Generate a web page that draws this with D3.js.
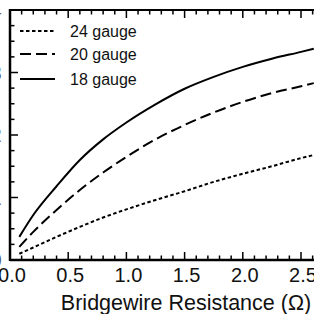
<!DOCTYPE html>
<html><head><meta charset="utf-8">
<script src="https://cdn.jsdelivr.net/npm/d3@7"></script>
<style>body{margin:0;background:#fff}svg{display:block}text{font-family:Arial,"Liberation Sans",Helvetica,sans-serif}</style>
</head><body>
<svg id="c" width="314" height="314"></svg>
<script>
const xVals = [0.08, 0.2, 0.4, 0.6, 0.8, 1.0, 1.25, 1.5, 1.75, 2.0, 2.25, 2.5, 2.61];
const gauge24 = [0.10, 0.20, 0.37, 0.53, 0.68, 0.81, 0.96, 1.10, 1.25, 1.38, 1.50, 1.63, 1.68];
const gauge20 = [0.21, 0.45, 0.80, 1.12, 1.40, 1.65, 1.93, 2.16, 2.36, 2.53, 2.67, 2.78, 2.83];
const gauge18 = [0.37, 0.72, 1.18, 1.60, 1.93, 2.20, 2.49, 2.74, 2.93, 3.09, 3.22, 3.33, 3.38];
const seriesNames = ["24 gauge", "20 gauge", "18 gauge"];
const xTickLabels = ["0.0", "0.5", "1.0", "1.5", "2.0", "2.5"];
const yTickLabels = ["0", "1", "2", "3", "4"];
const xTitle = "Bridgewire Resistance (\u03A9)";

const svg = d3.select("#c");
const L = 10, T = 10, B = 260;
const x = d3.scaleLinear().domain([0, 2.5]).range([L, L + 291]);
const y = d3.scaleLinear().domain([0, 4]).range([B, T]);

const dashes = ["3.5,2.5", "11,5", null];
const data = [gauge24, gauge20, gauge18];

const line = d3.line().x((d, i) => x(xVals[i])).y(d => y(d)).curve(d3.curveMonotoneX);
data.forEach((s, k) => {
  svg.append("path").attr("d", line(s)).attr("fill", "none").attr("stroke", "#000")
    .attr("stroke-width", 2).attr("stroke-dasharray", dashes[k]);
});

// minor & major ticks
const xMinor = d3.range(0, 27).map(i => i * 0.1);
const xMajor = [0, 0.5, 1.0, 1.5, 2.0, 2.5];
const yMinor = d3.range(0, 17).map(i => i * 0.25);
const yMajor = [0, 1, 2, 3, 4];
const g = svg.append("g").attr("stroke", "#000").attr("stroke-width", 1.5);
xMinor.forEach(v => {
  const isMaj = xMajor.some(m => Math.abs(m - v) < 1e-6);
  const len = isMaj ? 8 : 4.5;
  g.append("line").attr("x1", x(v)).attr("x2", x(v)).attr("y1", B).attr("y2", B - len);
  g.append("line").attr("x1", x(v)).attr("x2", x(v)).attr("y1", T).attr("y2", T + len);
});
yMinor.forEach(v => {
  const isMaj = yMajor.some(m => Math.abs(m - v) < 1e-6);
  const len = isMaj ? 8 : 4.5;
  g.append("line").attr("x1", L).attr("x2", L + len).attr("y1", y(v)).attr("y2", y(v));
});
// axis lines
svg.append("line").attr("x1", L).attr("x2", 314).attr("y1", B).attr("y2", B).attr("stroke", "#000").attr("stroke-width", 2.5);
svg.append("line").attr("x1", L).attr("x2", 314).attr("y1", T).attr("y2", T).attr("stroke", "#000").attr("stroke-width", 2);
svg.append("line").attr("x1", L).attr("x2", L).attr("y1", T - 1).attr("y2", B + 1).attr("stroke", "#000").attr("stroke-width", 2.5);

// tick labels
xMajor.forEach((v, i) => {
  svg.append("text").attr("x", x(v) + 2).attr("y", 282).attr("text-anchor", "middle")
    .attr("font-size", 20).attr("fill", "#111").text(xTickLabels[i]);
});
yMajor.forEach((v, i) => {
  svg.append("text").attr("x", 1.5).attr("y", y(v) + 7).attr("text-anchor", "end")
    .attr("font-size", 20).attr("fill", "#555").text(yTickLabels[i]);
});
svg.append("text").attr("x", 186).attr("y", 310).attr("text-anchor", "middle")
  .attr("font-size", 21.5).attr("fill", "#111").text(xTitle);

// legend
const legY = [31, 54, 79];
seriesNames.forEach((n, k) => {
  svg.append("line").attr("x1", 20).attr("x2", 55).attr("y1", legY[k]).attr("y2", legY[k])
    .attr("stroke", "#000").attr("stroke-width", 2).attr("stroke-dasharray", dashes[k]);
  svg.append("text").attr("x", 70).attr("y", legY[k] + 5.5).attr("font-size", 16).attr("fill", "#111").text(n);
});
</script>
</body></html>
